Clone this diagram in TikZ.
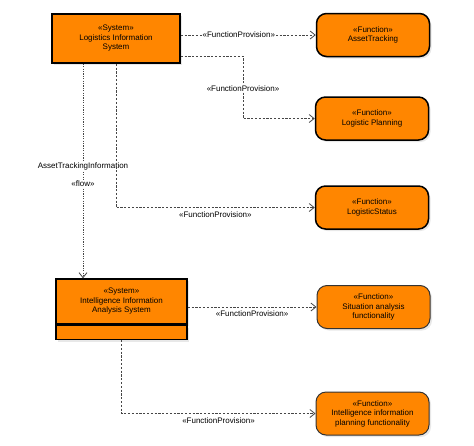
\documentclass[tikz,border=0pt]{standalone}
\usepackage{fontspec}
\setmainfont{Liberation Sans}
\usetikzlibrary{positioning,arrows.meta,shadows}
\definecolor{umlorange}{RGB}{255,134,0}
\definecolor{umlline}{RGB}{70,70,70}

\begin{document}
\begin{tikzpicture}[>={Straight Barb[length=5pt,width=8pt]}, x=1pt, y=-1pt,
    font=\fontsize{8}{9.5}\selectfont,
    sysbox/.style={draw=black, line width=1.5pt, fill=umlorange, align=center,
        drop shadow={shadow xshift=2pt, shadow yshift=-2pt, fill=gray!35}},
    funbox/.style={draw=black, line width=1.5pt, fill=umlorange, align=center,
        rounded corners=10pt, minimum width=113, minimum height=43, inner sep=1pt,
        drop shadow={shadow xshift=2pt, shadow yshift=-2pt, fill=gray!35}},
    prov/.style={->, umlline, dash pattern=on 2.2pt off 1.6pt, thick},
    flow/.style={->, umlline, dash pattern=on 1.2pt off 1.2pt, thick},
    lbl/.style={fill=white, inner sep=1pt, text=black}]
    \useasboundingbox (0,0) rectangle (474,445);

    % systems
    \node[sysbox, minimum width=128, minimum height=49] (lis) at (116,38.5)
        {«System»\\Logistics Information\\System};
    \node[sysbox, minimum width=131, minimum height=45] (intel) at (121.5,301.5)
        {«System»\\Intelligence Information\\Analysis System};
    \node[sysbox, minimum width=131, minimum height=14, below=0pt of intel] (intelbar) {};

    % functions
    \node[funbox] (at) at (373,35) {«Function»\\AssetTracking};
    \node[funbox] (lp) at (372,118.5) {«Function»\\Logistic Planning};
    \node[funbox] (ls) at (372,207.5) {«Function»\\LogisticStatus};
    \node[funbox, line width=1pt, draw=black!80] (sa) at (373.5,307)
        {«Function»\\Situation analysis\\functionality};
    \node[funbox, line width=1pt, draw=black!80] (ip) at (372.5,413.5)
        {«Function»\\Intelligence information\\planning functionality};
    \coordinate (bend) at (243,118.5);

    % flow between systems
    \draw[flow] ([xshift=-33pt]lis.south) -- ([xshift=-38.5pt]intel.north)
        node[lbl, pos=0.48] {AssetTrackingInformation}
        node[lbl, pos=0.56] {«flow»};

    % function provisions
    \draw[prov] (lis.east |- at) -- (at.west)
        node[lbl, pos=0.43] {«FunctionProvision»};
    \draw[prov] ([yshift=-17.5pt]lis.east) -| (bend)
        node[lbl, pos=0.76] {«FunctionProvision»} -- (lp.west);
    \draw[prov] (lis.south) |- (ls.west)
        node[below, pos=0.75, text=black] {«FunctionProvision»};
    \draw[prov] (intel.east |- sa) -- (sa.west)
        node[below, midway, text=black] {«FunctionProvision»};
    \draw[prov] (intelbar.south) |- (ip.west)
        node[below, pos=0.75, text=black] {«FunctionProvision»};
\end{tikzpicture}
\end{document}
